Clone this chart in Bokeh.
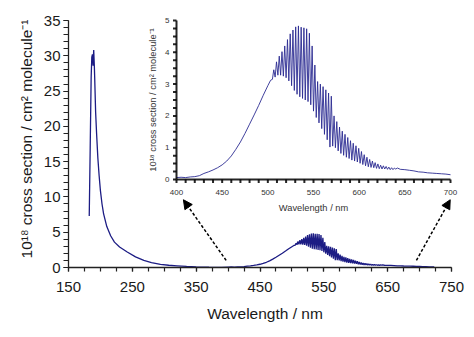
import math
from bokeh.plotting import figure
from bokeh.models import (Range1d, FixedTicker, SingleIntervalTicker,
                          Arrow, NormalHead)
from bokeh.core.properties import value
from bokeh.embed import file_html
from bokeh.resources import INLINE

# ---------------- data (cross section, units of 1e-18 cm^2 molecule^-1) -------------
uv_nm = [182.5, 184, 185.5, 186.5, 187.5, 188.5, 189.5, 190.5, 191, 192.5, 194, 196,
         198, 200, 202.5, 205, 210, 216, 222, 230, 242, 255, 268, 280, 294, 307,
         320, 335, 350, 370, 390]
uv_val = [7.3, 17.0, 27.0, 29.8, 30.2, 28.6, 30.8, 28.5, 27.0, 22.0, 19.0, 15.5,
          13.0, 10.9, 9.0, 7.6, 5.8, 4.5, 3.6, 2.9, 2.2, 1.5, 1.0, 0.7, 0.43, 0.32,
          0.24, 0.15, 0.08, 0.04, 0.03]

vis_nm = [400, 405, 410, 415, 420, 425, 430, 435, 440, 445, 450, 455, 460, 465, 470,
          475, 480, 485, 490, 495, 500, 503,
          505, 506.5, 508, 509.5, 511, 512.5, 514, 515.5, 517, 518.5, 520, 521.5,
          523, 524.5, 526, 527.5, 529, 530.5, 532, 533.5, 535, 536.5, 538, 539.5,
          541, 542.5, 544, 545.5, 547, 548.5, 550, 551.5, 553, 554.5, 556, 557.5,
          559, 560.5, 562, 563.5, 565, 566.5, 568, 569.5, 571, 572.5, 574, 575.5,
          577, 578.5, 580, 581.5, 583, 584.5, 586, 587.5, 589, 590.5, 592, 593.5,
          595, 596.5, 598, 599.5, 601, 602.5, 604, 605.5, 607, 608.5, 610, 611.5,
          613, 614.5, 616, 617.5, 619, 620.5, 622, 623.5, 625, 626.5, 628, 629.5,
          631, 632.5, 634, 635.5, 637, 638.5,
          640, 642, 645, 650, 655, 660, 665, 670, 675, 680, 685, 690, 695, 700,
          705, 710, 715, 720, 723]
vis_val = [0.06, 0.07, 0.06, 0.08, 0.09, 0.12, 0.19, 0.24, 0.30, 0.37, 0.46, 0.58,
           0.74, 0.95, 1.18, 1.45, 1.74, 2.03, 2.33, 2.65, 2.95, 3.12,
           3.15, 3.45, 3.22, 3.70, 3.28, 3.88, 3.28, 4.02, 3.25, 4.20, 3.20, 4.40,
           3.10, 4.58, 2.95, 4.70, 2.80, 4.80, 2.68, 4.83, 2.60, 4.79, 2.55, 4.77,
           2.50, 4.74, 2.45, 4.60, 2.35, 4.20, 2.15, 3.60, 1.95, 3.08, 1.78, 3.00,
           1.60, 2.92, 1.42, 2.82, 1.25, 2.72, 1.02, 2.62, 1.05, 2.00, 1.00, 1.82,
           0.90, 1.65, 0.82, 1.52, 0.76, 1.42, 0.70, 1.32, 0.66, 1.22, 0.61, 1.14,
           0.58, 1.06, 0.55, 0.98, 0.51, 0.88, 0.47, 0.78, 0.43, 0.70, 0.40, 0.63,
           0.38, 0.58, 0.37, 0.53, 0.35, 0.49, 0.34, 0.45, 0.33, 0.43, 0.33, 0.41,
           0.32, 0.39, 0.31, 0.37, 0.31, 0.36,
           0.33, 0.36, 0.32, 0.31, 0.29, 0.27, 0.24, 0.23, 0.21, 0.20, 0.19, 0.18,
           0.17, 0.15, 0.13, 0.11, 0.09, 0.08, 0.07]

main_xticks = [150, 250, 350, 450, 550, 650, 750]
main_xminor = [150, 175, 200, 225, 250, 275, 300, 325, 350, 375, 400, 425, 450,
               475, 500, 525, 550, 575, 600, 625, 650, 675, 700, 725, 750]
inset_xticks = [400, 450, 500, 550, 600, 650, 700]
inset_xminor = [400, 410, 420, 430, 440, 450, 460, 470, 480, 490, 500, 510, 520,
                530, 540, 550, 560, 570, 580, 590, 600, 610, 620, 630, 640, 650,
                660, 670, 680, 690, 700]
inset_yticks = [0, 1, 2, 3, 4, 5]
inset_yminor = [0, 0.25, 0.5, 0.75, 1, 1.25, 1.5, 1.75, 2, 2.25, 2.5, 2.75, 3,
                3.25, 3.5, 3.75, 4, 4.25, 4.5, 4.75, 5]

x_title = "Wavelength / nm"
y_title = "10¹⁸ cross section / cm² molecule⁻¹"

all_nm = uv_nm + vis_nm
all_val = uv_val + vis_val
inset_nm = [w for w in vis_nm if 400 <= w <= 700]
inset_val = [v for w, v in zip(vis_nm, vis_val) if 400 <= w <= 700]

# ---------------- layout geometry (pixels) ----------------
W, H = 474, 337
AXL, AXR, AXT, AXB = 68, 451, 20, 267      # where the main axes start/end
PAD_R, PAD_T = 10, 10                      # extra frame room for inset labels
FL, FR, FT, FB = AXL, AXR + PAD_R, AXT - PAD_T, AXB
IL, IR, IT, IB = 176, 450, 20, 179         # inset plot area edges
X0, X1, Y0, Y1 = 150, 750, 0, 35
IX0, IX1, IY0, IY1 = 400, 700, 0, 5

kx = (X1 - X0) / (AXR - AXL)
ky = (Y1 - Y0) / (AXB - AXT)

FONT = "Liberation Sans"
LINE = "#1c1c84"
IAX = "black"
ITXT = "#333333"

p = figure(width=W, height=H, output_backend="svg", toolbar_location=None,
           x_range=Range1d(X0, X1 + PAD_R * kx), y_range=Range1d(Y0, Y1 + PAD_T * ky),
           min_border_left=FL, min_border_right=W - FR,
           min_border_top=FT, min_border_bottom=H - FB)
p.outline_line_color = None
p.xgrid.visible = False
p.ygrid.visible = False
p.background_fill_color = "white"
p.border_fill_color = "white"

# inset ranges mapped onto the full frame so the inset occupies its box
sx = (IX1 - IX0) / (IR - IL)
sy = (IY1 - IY0) / (IB - IT)
p.extra_x_ranges = {"ix": Range1d(IX0 - (IL - FL) * sx, IX1 + (FR - IR) * sx)}
p.extra_y_ranges = {"iy": Range1d(IY0 - (FB - IB) * sy, IY1 + (IT - FT) * sy)}

# main axes
for ax in (p.xaxis[0], p.yaxis[0]):
    ax.axis_line_color = "#222222"
    ax.axis_line_width = 1.3
    ax.major_tick_line_color = "#222222"
    ax.minor_tick_line_color = "#222222"
    ax.major_tick_line_width = 1.2
    ax.minor_tick_line_width = 1.2
    ax.major_tick_in = 0
    ax.minor_tick_in = 0
    ax.major_label_text_font = FONT
    ax.major_label_text_font_size = "15px"
    ax.major_label_text_color = "#1a1a1a"
    ax.axis_label_text_font = FONT
    ax.axis_label_text_font_size = "15.5px"
    ax.axis_label_text_font_style = "normal"
    ax.axis_label_text_color = "#1a1a1a"

xa = p.xaxis[0]
xa.bounds = (X0, X1)
xa.ticker = FixedTicker(ticks=main_xticks, minor_ticks=main_xminor)
xa.major_tick_out = 4
xa.minor_tick_out = 4
xa.major_label_standoff = 10
xa.axis_label = x_title
xa.axis_label_standoff = 10

ya = p.yaxis[0]
ya.bounds = (Y0, Y1)
ya.ticker = SingleIntervalTicker(interval=5, num_minor_ticks=5)
ya.major_tick_out = 5
ya.minor_tick_out = 5
ya.major_label_standoff = 3
ya.axis_label = y_title
ya.axis_label_standoff = 6

# main curve
p.line(all_nm, all_val, line_color=LINE, line_width=1.3)

# inset curve
R = dict(x_range_name="ix", y_range_name="iy")
p.line(inset_nm, inset_val, line_color="#2b2b92", line_width=0.9, **R)

# inset axis rules and ticks
p.segment(x0=[IX0, IX0], y0=[IY0, IY0], x1=[IX1, IX0], y1=[IY0, IY1],
          line_color=IAX, line_width=2, line_alpha=0.85, **R)
p.ray(x=inset_xminor, y=[IY0] * len(inset_xminor), length=3.5,
      angle=-math.pi / 2, length_units="screen", line_color=IAX, line_width=2,
      line_alpha=0.85, **R)
p.ray(x=[IX0] * len(inset_yminor), y=inset_yminor, length=3.5,
      angle=math.pi, length_units="screen", line_color=IAX, line_width=2,
      line_alpha=0.85, **R)

# inset tick labels and titles
p.text(x=inset_xticks, y=[IY0] * len(inset_xticks),
       text=[str(t) for t in inset_xticks], y_offset=13,
       text_align="center", text_baseline="middle",
       text_font=value(FONT), text_font_size="8px", text_color=ITXT, **R)
p.text(x=[IX0] * len(inset_yticks), y=inset_yticks,
       text=[str(t) for t in inset_yticks], x_offset=-7,
       text_align="right", text_baseline="middle",
       text_font=value(FONT), text_font_size="8px", text_color=ITXT, **R)
p.text(x=[(IX0 + IX1) / 2], y=[IY0], text=[x_title], y_offset=28,
       text_align="center", text_baseline="middle",
       text_font=value(FONT), text_font_size="9.3px", text_color=ITXT, **R)
p.text(x=[IX0], y=[(IY0 + IY1) / 2], text=[y_title], x_offset=-24,
       angle=math.pi / 2, text_align="center", text_baseline="middle",
       text_font=value(FONT), text_font_size="9.3px", text_color=ITXT, **R)

# dashed arrows linking the main plot to the inset
for xs, ys, xe, ye in [(397, 1.0, 330, 9.6), (695, 1.0, 748, 9.6)]:
    p.add_layout(Arrow(x_start=xs, y_start=ys, x_end=xe, y_end=ye,
                       line_color="black", line_width=1.5, line_dash="3 2",
                       end=NormalHead(size=9, fill_color="black",
                                      line_color="black", line_width=1)))

open("out.html", "w").write(file_html(p, INLINE))
